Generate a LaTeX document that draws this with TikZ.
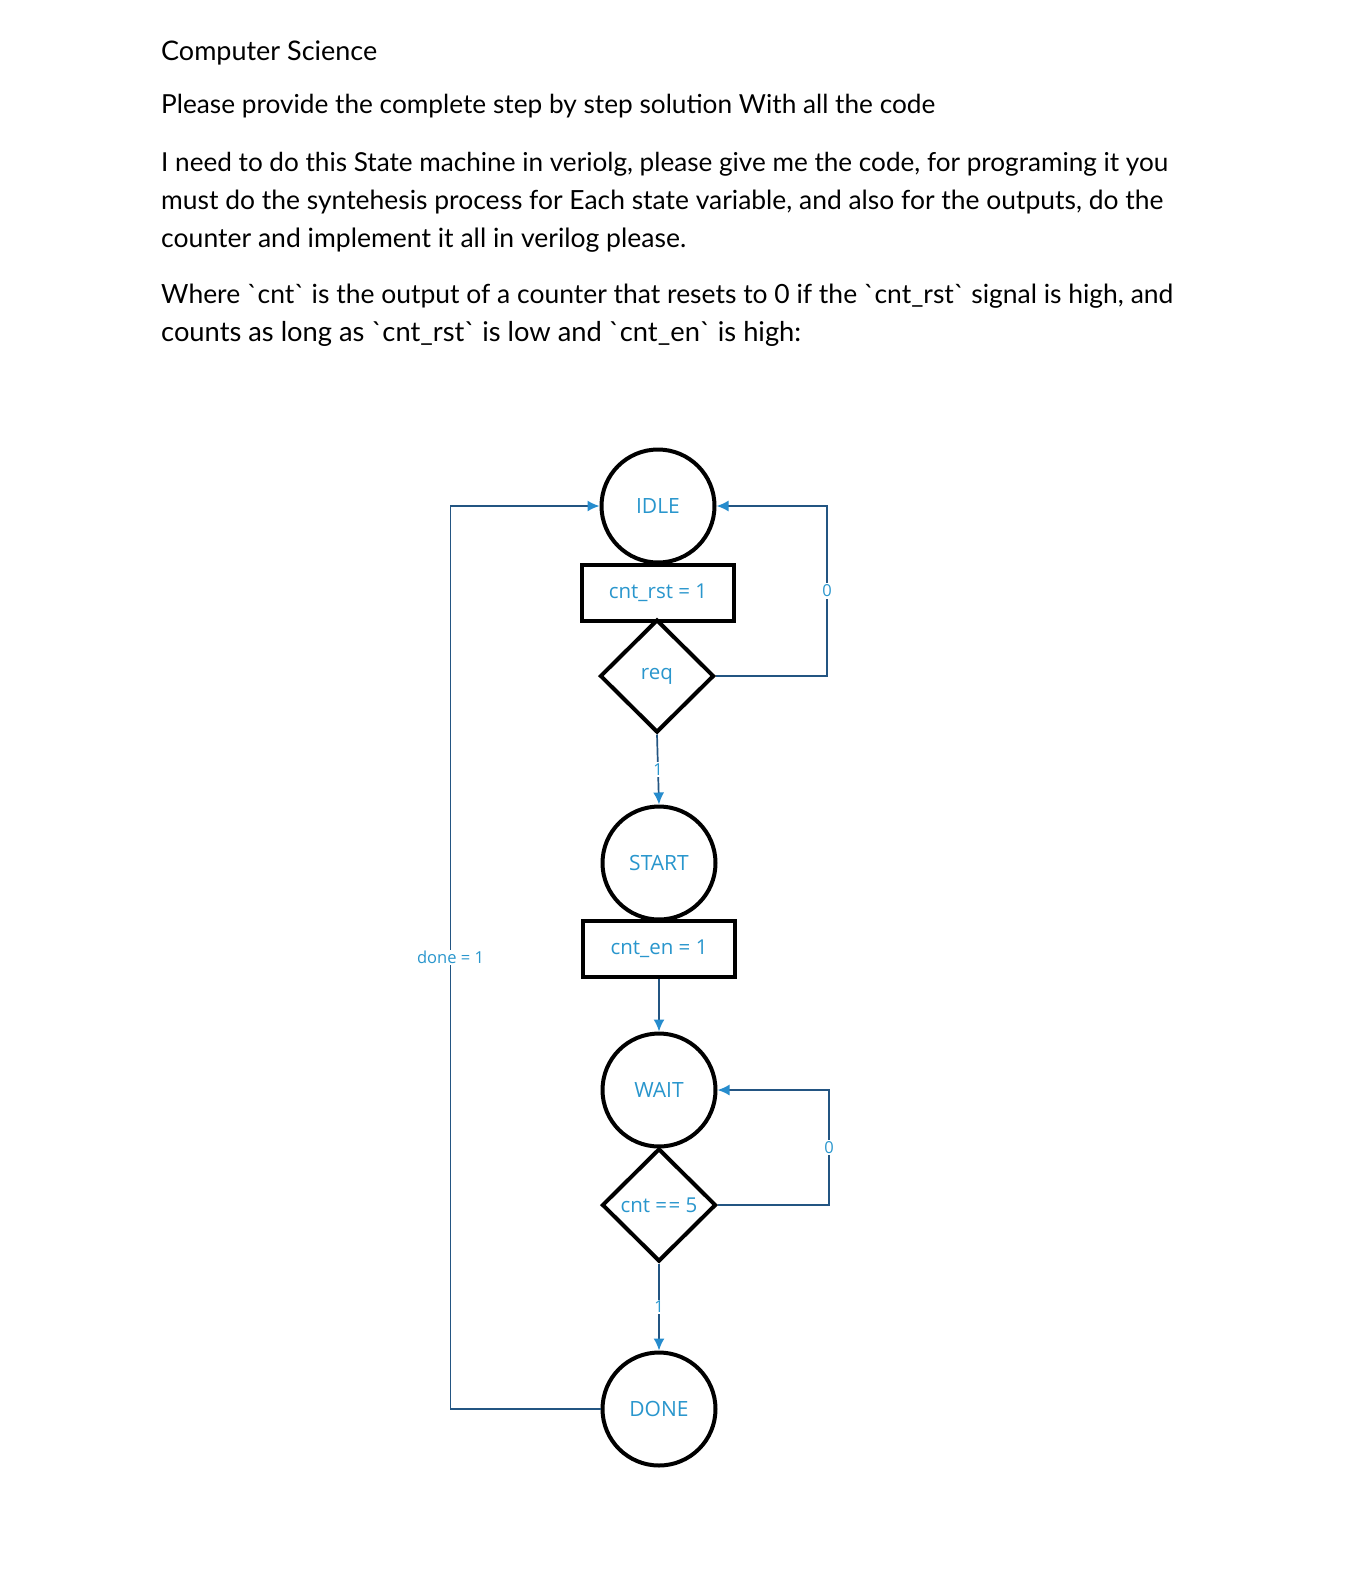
\documentclass[tikz,border=0pt]{standalone}
\usepackage{fontspec}
\setmainfont{Lato}
\newfontfamily\dfont{Open Sans}
\usetikzlibrary{shapes.geometric,arrows.meta}
\definecolor{tblue}{RGB}{41,150,205}
\definecolor{lblue}{RGB}{35,85,130}
\definecolor{ablue}{RGB}{38,140,205}
\begin{document}
\begin{tikzpicture}[x=1pt,y=-1pt,
  para/.style={anchor=base west,inner sep=0pt,font=\fontsize{23}{28}\selectfont},
  state/.style={circle,draw=black,line width=4pt,minimum size=113pt,inner sep=0pt,text=tblue,font=\dfont\fontsize{21}{24}\selectfont},
  outbox/.style={rectangle,draw=black,line width=4.5pt,minimum width=152pt,minimum height=56pt,inner sep=0pt,text=tblue,font=\dfont\fontsize{20.5}{24}\selectfont},
  cond/.style={diamond,draw=black,line width=4pt,minimum width=114pt,minimum height=113pt,aspect=1,inner sep=0pt,text=tblue,font=\dfont\fontsize{20.5}{24}\selectfont},
  conn/.style={draw=lblue,line width=1.7pt,-{Latex[length=12pt,width=11pt,color=ablue]}},
  lbl/.style={fill=white,inner sep=1.5pt,text=tblue,font=\dfont\fontsize{16.5}{18}\selectfont}
]
\useasboundingbox[fill=white] (0,0) rectangle (1371,1574);

% text
\node[para] (t1) at (161,60) {\resizebox{216pt}{!}{Computer Science}};
\node[para] (t2) at (161,113) {\resizebox{774pt}{!}{Please provide the complete step by step solution With all the code}};
\node[para] (t3) at (161,171) {\resizebox{1007pt}{!}{I need to do this State machine in veriolg, please give me the code, for programing it you}};
\node[para] (t4) at (161,209) {\resizebox{1002pt}{!}{must do the syntehesis process for Each state variable, and also for the outputs, do the}};
\node[para] (t5) at (161,247) {\resizebox{525pt}{!}{counter and implement it all in verilog please.}};
\node[para] (t6) at (161,303) {\resizebox{1012pt}{!}{Where \textasciigrave cnt\textasciigrave{} is the output of a counter that resets to 0 if the \textasciigrave cnt\_rst\textasciigrave{} signal is high, and}};
\node[para] (t7) at (161,341) {\resizebox{640pt}{!}{counts as long as \textasciigrave cnt\_rst\textasciigrave{} is low and \textasciigrave cnt\_en\textasciigrave{} is high:}};

% diagram
\node[state] (idle) at (658,506) {IDLE};
\node[cond] (req) at (657,676) {req};
\node[outbox] (rst) at (658,593) {cnt\_rst = 1};
\node[state] (start) at (659,863) {START};
\node[outbox] (en) at (659,949) {cnt\_en = 1};
\node[state] (wait) at (659,1090) {WAIT};
\node[cond] (c5) at (659,1205) {cnt =\kern1.5pt= 5};
\node[state] (done) at (659,1409) {DONE};

\draw[conn] (req.east) -- ++(111,0) |- node[pos=0.25,lbl]{0} (idle.east);
\draw[conn] (req.south) -- node[lbl]{1} (start.north);
\draw[conn] (en.south) -- (wait.north);
\draw[conn] (c5.east) -- ++(111,0) |- node[pos=0.25,lbl]{0} (wait.east);
\draw[conn] (c5.south) -- node[lbl]{1} (done.north);
\draw[conn] (done.west) -- ++(-150,0) |- node[pos=0.25,lbl]{done = 1} (idle.west);
\end{tikzpicture}
\end{document}
